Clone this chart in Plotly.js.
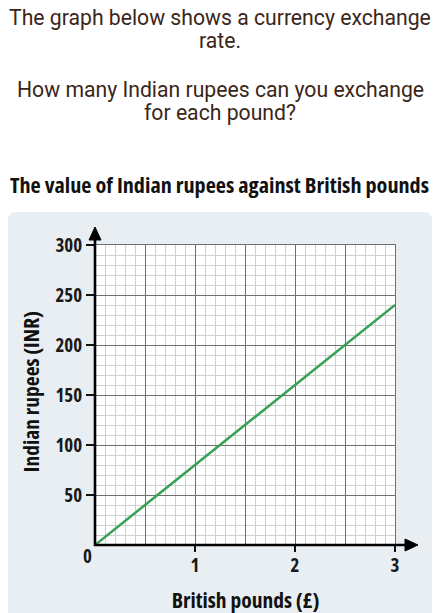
<!DOCTYPE html>
<html>
<head>
<meta charset="utf-8">
<script src="https://cdn.plot.ly/plotly-3.0.1.min.js"></script>
<style>
html,body{margin:0;padding:0;background:#fff;}
#chart{width:439px;height:613px;}
#chart text[style*="Open Sans"]{font-stretch:75%;}
</style>
</head>
<body>
<div id="chart"></div>
<script>
// ---- data ----
const pounds = [0, 3];
const rupees = [0, 240];
const xMajorGrid = [0, 0.5, 1, 1.5, 2, 2.5, 3];
const yMajorGrid = [0, 50, 100, 150, 200, 250, 300];
const xTickVals = [1, 2, 3];
const xTickText = ['1', '2', '3'];
const yTickVals = [50, 100, 150, 200, 250, 300];
const yTickText = ['50', '100', '150', '200', '250', '300'];
const originLabel = '0';
const questionLines = [
  'The graph below shows a currency exchange',
  'rate.',
  'How many Indian rupees can you exchange',
  'for each pound?'
];
const chartTitle = 'The value of Indian rupees against British pounds';
const xTitle = 'British pounds (£)';
const yTitle = 'Indian rupees (INR)';

const W = 439, H = 613;
const L = 95, T = 245, PW = 300, PH = 300;
const px = v => (v - L) / PW;
const py = v => (T + PH - v) / PH;

const narrow = '"Open Sans", sans-serif';
const tickFont = {family: narrow, size: 19, color: '#1a1a1a', weight: 700};
const qFont = {family: 'Roboto, sans-serif', size: 21.2, color: '#3b2618'};
const qY = [17, 40, 89, 112];

const traces = [
  {x: pounds, y: rupees, xaxis: 'x', yaxis: 'y', mode: 'lines',
   line: {color: '#37a052', width: 2.5}, hoverinfo: 'skip', showlegend: false},
  {x: pounds, y: rupees, xaxis: 'x2', yaxis: 'y2', mode: 'lines',
   line: {color: 'rgba(0,0,0,0)', width: 0}, hoverinfo: 'skip', showlegend: false}
];

const annotations = questionLines.map((t, i) => ({
  text: t, xref: 'paper', yref: 'paper', x: px(220), y: py(qY[i]),
  xanchor: 'center', yanchor: 'middle', showarrow: false, font: qFont
}));

annotations.push(
  {text: originLabel, xref: 'paper', yref: 'paper', x: 0, y: 0,
   xshift: -8, yshift: -11, xanchor: 'center', yanchor: 'middle', showarrow: false,
   font: tickFont},
  {text: xTitle, xref: 'paper', yref: 'paper', x: px(245), y: py(599),
   xanchor: 'center', yanchor: 'middle', showarrow: false,
   font: {family: narrow, size: 21.5, color: '#111', weight: 700}},
  {text: yTitle, xref: 'paper', yref: 'paper', x: px(30), y: py(392),
   xanchor: 'center', yanchor: 'middle', showarrow: false, textangle: -90,
   font: {family: narrow, size: 21.5, color: '#111', weight: 700}}
);

const yTip = 227, yBase = 240, xTip = 418, xBase = 405, half = 6;

const layout = {
  width: W, height: H,
  margin: {l: L, r: W - L - PW, t: T, b: H - T - PH, pad: 0},
  paper_bgcolor: '#ffffff',
  plot_bgcolor: 'rgba(0,0,0,0)',
  showlegend: false,
  title: {
    text: chartTitle,
    font: {family: narrow, size: 22.2, color: '#111', weight: 700},
    x: 0.5, xanchor: 'center', xref: 'container',
    y: 1 - 185 / H, yanchor: 'middle', yref: 'container'
  },
  xaxis: {
    range: [0, 3], tickvals: xMajorGrid, showticklabels: false, ticks: '',
    showgrid: true, gridcolor: '#6f6f6f', gridwidth: 1,
    minor: {dtick: 0.1, showgrid: true, gridcolor: '#cfcfcf', gridwidth: 1, ticks: ''},
    zeroline: false, showline: true, mirror: true, linecolor: '#6f6f6f', linewidth: 1,
    fixedrange: true
  },
  yaxis: {
    range: [0, 300], tickvals: yMajorGrid, showticklabels: false, ticks: '',
    showgrid: true, gridcolor: '#6f6f6f', gridwidth: 1,
    minor: {dtick: 10, showgrid: true, gridcolor: '#cfcfcf', gridwidth: 1, ticks: ''},
    zeroline: false, showline: true, mirror: true, linecolor: '#6f6f6f', linewidth: 1,
    fixedrange: true
  },
  xaxis2: {
    overlaying: 'x', anchor: 'y2', side: 'bottom', range: [0, 3],
    tickvals: xTickVals, ticktext: xTickText, ticks: 'outside', ticklen: 6,
    tickwidth: 2, tickcolor: '#111', tickfont: tickFont, ticklabelstandoff: -3,
    showgrid: false, zeroline: false, showline: false, fixedrange: true
  },
  yaxis2: {
    overlaying: 'y', anchor: 'x2', side: 'left', range: [0, 300],
    tickvals: yTickVals, ticktext: yTickText, ticks: 'outside', ticklen: 8,
    tickwidth: 2, tickcolor: '#111', tickfont: tickFont, ticklabelstandoff: 0,
    showgrid: false, zeroline: false, showline: false, fixedrange: true
  },
  shapes: [
    {type: 'path', xref: 'paper', yref: 'paper', layer: 'below',
     path: (function(){
       const x0 = px(8), x1 = px(432), yT = py(212), yB = py(616);
       const rx = 8 / PW, ry = 8 / PH;
       return 'M ' + x0 + ' ' + yB + ' L ' + x0 + ' ' + (yT - ry) +
              ' Q ' + x0 + ' ' + yT + ' ' + (x0 + rx) + ' ' + yT +
              ' L ' + (x1 - rx) + ' ' + yT +
              ' Q ' + x1 + ' ' + yT + ' ' + x1 + ' ' + (yT - ry) +
              ' L ' + x1 + ' ' + yB + ' Z';
     })(),
     fillcolor: '#e9eef2', line: {width: 0}},
    {type: 'rect', xref: 'paper', yref: 'paper', layer: 'below',
     x0: 0, x1: 1, y0: 0, y1: 1, fillcolor: '#ffffff', line: {width: 0}},
    {type: 'line', xref: 'paper', yref: 'paper', layer: 'above',
     x0: 0, y0: py(546), x1: 0, y1: py(yBase), line: {color: '#000', width: 2.6}},
    {type: 'line', xref: 'paper', yref: 'paper', layer: 'above',
     x0: px(94), y0: 0, x1: px(xBase), y1: 0, line: {color: '#000', width: 2.6}},
    {type: 'path', xref: 'paper', yref: 'paper', layer: 'above',
     path: 'M ' + px(L - half) + ' ' + py(yBase) + ' L ' + px(L) + ' ' + py(yTip) +
           ' L ' + px(L + half) + ' ' + py(yBase) + ' Z',
     fillcolor: '#000', line: {color: '#000', width: 1}},
    {type: 'path', xref: 'paper', yref: 'paper', layer: 'above',
     path: 'M ' + px(xBase) + ' ' + py(545 - half) + ' L ' + px(xTip) + ' ' + py(545) +
           ' L ' + px(xBase) + ' ' + py(545 + half) + ' Z',
     fillcolor: '#000', line: {color: '#000', width: 1}}
  ],
  annotations: annotations
};

Plotly.newPlot('chart', traces, layout, {displayModeBar: false, staticPlot: true});
</script>
</body>
</html>
